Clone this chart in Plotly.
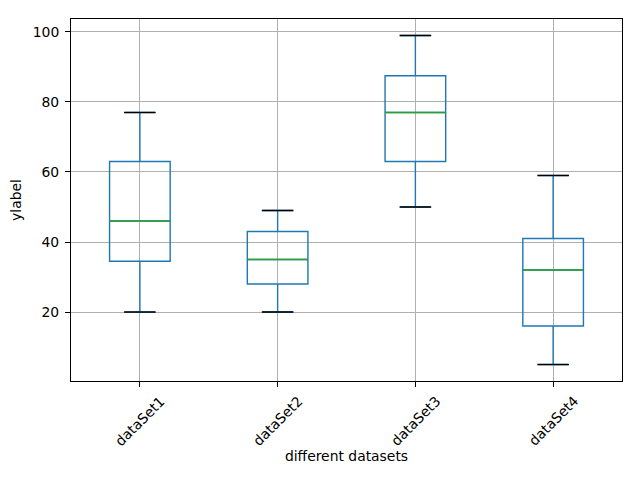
import plotly.graph_objects as go

categories = ["dataSet1", "dataSet2", "dataSet3", "dataSet4"]
positions = [1, 2, 3, 4]
lower_whisker = [20, 20, 50, 5]
q1 = [34.5, 28, 63, 16]
median = [46, 35, 77, 32]
q3 = [63, 43, 87.5, 41]
upper_whisker = [77, 49, 99, 59]
y_ticks = [20, 40, 60, 80, 100]

BOX_W = 0.44
CAP_HALF = 0.115
BLUE = "#1f77b4"
FONT = "DejaVu Sans"
FS = 13.9

fig = go.Figure()
fig.add_trace(go.Box(
    x=positions, q1=q1, median=median, q3=q3,
    lowerfence=lower_whisker, upperfence=upper_whisker,
    width=BOX_W, whiskerwidth=0.5,
    line=dict(color=BLUE, width=1.4),
    fillcolor="rgba(0,0,0,0)", boxpoints=False, showlegend=False,
    hoverinfo="skip",
))

# median lines (green)
mx, my = [], []
for p, m in zip(positions, median):
    mx += [p - BOX_W / 2, p + BOX_W / 2, None]
    my += [m, m, None]
fig.add_trace(go.Scatter(x=mx, y=my, mode="lines",
                         line=dict(color="#2ca02c", width=1.4),
                         showlegend=False, hoverinfo="skip"))

# whisker caps (black)
cx, cy = [], []
for p, lo, hi in zip(positions, lower_whisker, upper_whisker):
    cx += [p - CAP_HALF, p + CAP_HALF, None, p - CAP_HALF, p + CAP_HALF, None]
    cy += [lo, lo, None, hi, hi, None]
fig.add_trace(go.Scatter(x=cx, y=cy, mode="lines",
                         line=dict(color="black", width=1.4),
                         showlegend=False, hoverinfo="skip"))

# rotated x tick labels centred under their ticks (matplotlib style)
for p, lab in zip(positions, categories):
    fig.add_annotation(x=p, y=0, xref="x", yref="paper", text=lab,
                       textangle=-45, showarrow=False,
                       xanchor="center", yanchor="top", yshift=-9,
                       font=dict(family=FONT, size=FS, color="black"))

axis_common = dict(
    showline=True, linecolor="black", linewidth=1, mirror=True,
    ticks="outside", ticklen=5, tickcolor="black", tickwidth=1,
    showgrid=True, gridcolor="#b0b0b0", gridwidth=1.1, zeroline=False,
    tickfont=dict(family=FONT, size=FS, color="black"),
)

fig.update_layout(
    width=632, height=472,
    paper_bgcolor="white", plot_bgcolor="white",
    margin=dict(l=63.3, r=17.7, t=11.3, b=99, autoexpand=False),
    font=dict(family=FONT, size=FS, color="black"),
    xaxis=dict(range=[0.5, 4.5], tickvals=positions,
               ticktext=["" for _ in categories],
               title=dict(text="different datasets", font=dict(size=FS), standoff=62),
               **axis_common),
    yaxis=dict(range=[0.3, 103.7], tickvals=y_ticks,
               ticklabelstandoff=3, automargin=True,
               title=dict(text="ylabel", font=dict(size=FS), standoff=9),
               **axis_common),
)

fig.write_html("out.html")
